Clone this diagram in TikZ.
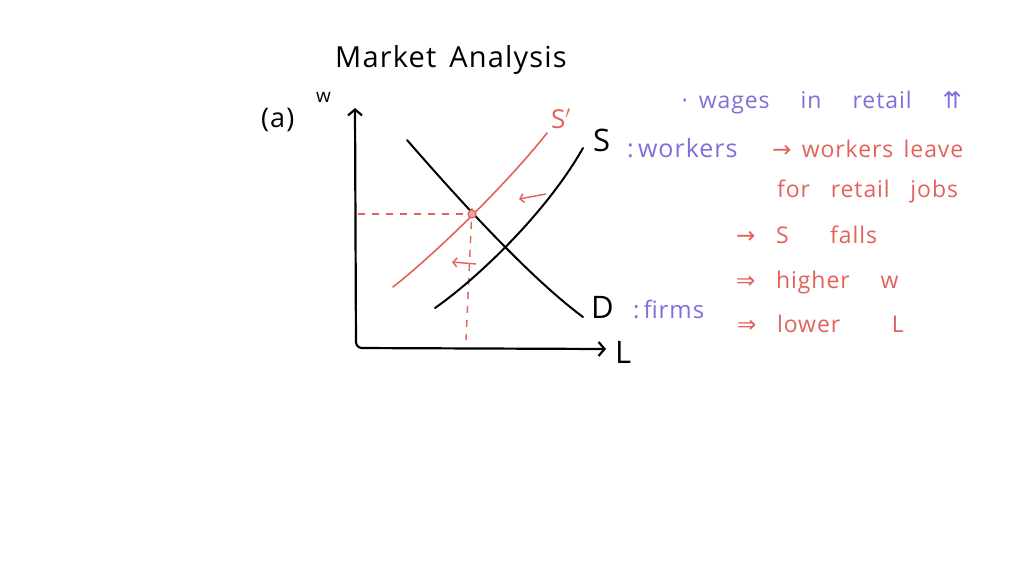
\documentclass[tikz,border=0pt]{standalone}
\usepackage{fontspec}
\setmainfont{Open Sans}[LetterSpace=4, WordSpace=1.5]
\newfontfamily\symf{DejaVu Sans}
\usetikzlibrary{arrows.meta}
\definecolor{hred}{RGB}{226,98,90}
\definecolor{hblue}{RGB}{124,112,218}
\tikzset{
  txt/.style={anchor=base west, inner sep=0pt, font=\fontsize{23}{26}\selectfont},
  big/.style={txt, font=\fontsize{31}{34}\selectfont},
  curve/.style={line width=2pt, line cap=round},
  redcurve/.style={line width=1.6pt, color=hred, line cap=round},
  dsh/.style={hred, line width=1.4pt, dash pattern=on 7pt off 7pt},
  smarrow/.style={hred, line width=1.4pt, -{Straight Barb[length=4pt,width=9pt]}},
  axis/.style={line width=2.2pt, line cap=round, rounded corners=6pt, {Straight Barb[length=6pt,width=14pt]}-{Straight Barb[length=6pt,width=14pt]}}
}
\begin{document}
\begin{tikzpicture}[x=1pt,y=-1pt]
\useasboundingbox (0,0) rectangle (1024,576);
% title
\node[txt, font=\fontsize{29}{34}\selectfont] (title) at (335,67) {Market Analysis};
\node[txt, font=\fontsize{27}{30}\selectfont] (a) at (261,127) {(a)};
\node[txt, font=\fontsize{19}{22}\selectfont] (w) at (316,102) {w};
% axes
\coordinate (ytop) at (355,108);
\coordinate (corner) at (356,348);
\coordinate (xend) at (606,349);
\draw[axis] (ytop) -- (corner) -- (xend);
\node[big] (L) at (615,363) {L};
% dashed guides
\coordinate (eq) at (472,214);
\coordinate (yw) at (358,214);
\coordinate (xl) at (466,340);
\draw[dsh] (yw) -- (eq);
\draw[dsh] ([yshift=6pt]eq) -- (xl);
% curves
\coordinate (d0) at (407,140);
\coordinate (d1) at (583,317);
\draw[curve] (d0) .. controls (467,209) and (533,280) .. (d1);
\coordinate (s0) at (435,308);
\coordinate (s1) at (583,148);
\draw[curve] (s0) .. controls (475,280) and (545,215) .. (s1);
\coordinate (sp0) at (393,287);
\coordinate (sp1) at (547,133);
\draw[redcurve] (sp0) .. controls (440,250) and (510,180) .. (sp1);
\node[circle, draw=hred, fill=hred!60, line width=1.2pt, minimum size=8pt, inner sep=0pt] (dot) at (eq) {};
% small shift arrows
\coordinate (a1s) at (546,194);
\coordinate (a1e) at (519,199);
\draw[smarrow] (a1s) -- (a1e);
\coordinate (a2s) at (476,264);
\coordinate (a2e) at (452,262);
\draw[smarrow] (a2s) -- (a2e);
% curve labels
\node[txt, hred, font=\fontsize{26}{30}\selectfont] (Sp) at (551,128) {S$'$};
\node[big] (S) at (593,151) {S};
\node[big] (D) at (591,318) {D};
\node[txt, hblue, font=\fontsize{25}{28}\selectfont] (workers) at (627,157) {:\,workers};
\node[txt, hblue, font=\fontsize{24}{28}\selectfont] (firms) at (633,318) {:\,firms};
% notes
\node[txt, hblue] (wages) at (681,108) {{\symf ·}\ wages\ \ \ in\ \ \ retail\ \ \ {\symf ⇈}};
\node[txt, hred] (n1) at (772,157) {{\symf →}\ workers\ leave};
\node[txt, hred] (n2) at (777,197) {for\ \ retail\ \ jobs};
\node[txt, hred] (n3) at (736,243) {{\symf →}\ \ S\ \ \ \ falls};
\node[txt, hred] (n4) at (736,288) {{\symf ⇒}\ \ higher\ \ \ w};
\node[txt, hred] (n5) at (737,332) {{\symf ⇒}\ \ lower\ \ \ \ \ L};
\end{tikzpicture}
\end{document}
